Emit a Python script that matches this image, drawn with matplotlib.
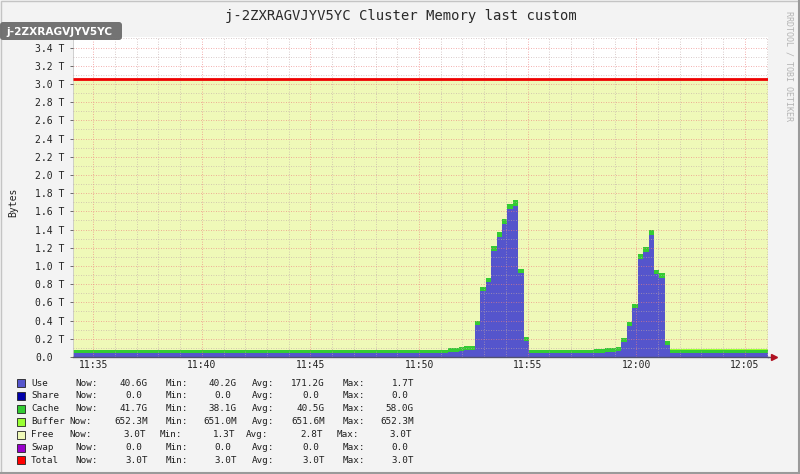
import numpy as np
import matplotlib
matplotlib.use("Agg")
import matplotlib.pyplot as plt
from matplotlib.patches import Rectangle, FancyBboxPatch

W, H = 800, 474
TB = 1e12

# ---- data: 15 s rrd steps, time in minutes relative to 11:35 ----
T0 = -0.9333            # 11:34:04
STEP = 0.25
N_STEPS = 128

# step index where a new value starts, values in T
seg_start = [0, 69, 71, 72, 74, 75, 76, 77, 78, 79, 80, 81, 82, 83, 84,
             96, 98, 100, 101, 102, 103, 104, 105, 106, 107, 108, 109, 110]
use_seg = [0.0402, 0.059, 0.064, 0.077, 0.351, 0.723, 0.822, 1.170, 1.318,
           1.466, 1.624, 1.662, 0.920, 0.175, 0.0404,
           0.048, 0.058, 0.068, 0.168, 0.341, 0.534, 1.080, 1.158, 1.345,
           0.910, 0.870, 0.136, 0.0406]
cache_seg = [0.0400, 0.0405, 0.041, 0.041, 0.045, 0.047, 0.048, 0.050, 0.052,
             0.054, 0.056, 0.058, 0.050, 0.045, 0.0402,
             0.0405, 0.041, 0.041, 0.042, 0.044, 0.046, 0.050, 0.052, 0.055,
             0.050, 0.050, 0.044, 0.0417]
share_val = 0.0
buffer_val = 0.000652
total_val = 3.055

xtick_pos = [0, 5, 10, 15, 20, 25, 30]
xtick_lab = ["11:35", "11:40", "11:45", "11:50", "11:55", "12:00", "12:05"]
ytick_lab = ["0.0"] + ["%.1f T" % (v / 10) for v in range(2, 36, 2)]

leg_names = ["Use", "Share", "Cache", "Buffer", "Free", "Swap", "Total"]
leg_colors = ["#5555cc", "#0000aa", "#33cc33", "#99ff33", "#eff9b8", "#9900cc", "#ff0000"]
leg_now = ["40.6G", "0.0", "41.7G", "652.3M", "3.0T", "0.0", "3.0T"]
leg_min = ["40.2G", "0.0", "38.1G", "651.0M", "1.3T", "0.0", "3.0T"]
leg_avg = ["171.2G", "0.0", "40.5G", "651.6M", "2.8T", "0.0", "3.0T"]
leg_max = ["1.7T", "0.0", "58.0G", "652.3M", "3.0T", "0.0", "3.0T"]

# ---- expand step segments ----
lens = np.diff(seg_start + [N_STEPS])
use = np.repeat(use_seg, lens) * TB
cache = np.repeat(cache_seg, lens) * TB
share = np.full(N_STEPS, share_val) * TB
buff = np.full(N_STEPS, buffer_val) * TB
total = np.full(N_STEPS, total_val) * TB
edges = T0 + STEP * np.arange(N_STEPS + 1)

fig = plt.figure(figsize=(W / 100, H / 100), dpi=100, facecolor="#f3f3f3")
L, R, TOP, BOT = 73, 768, 37, 357
ax = fig.add_axes([L / W, 1 - BOT / H, (R - L) / W, (BOT - TOP) / H])
ax.set_facecolor("white")

b1 = use
b2 = b1 + share
b3 = b2 + cache
b4 = b3 + buff
ax.stairs(b1, edges, baseline=0, fill=True, color=leg_colors[0], zorder=1)
ax.stairs(b2, edges, baseline=b1, fill=True, color=leg_colors[1], zorder=1)
ax.stairs(b3, edges, baseline=b2, fill=True, color=leg_colors[2], zorder=1)
ax.stairs(b4, edges, baseline=b3, fill=True, color=leg_colors[3], zorder=1)
ax.stairs(total, edges, baseline=b4, fill=True, color=leg_colors[4], zorder=1)
ax.stairs(total, edges, baseline=None, fill=False, color="#ee0000", lw=2, zorder=3)

ax.set_xlim(edges[0], edges[-1])
ax.set_ylim(0, 3.516 * TB)

ax.set_xticks(xtick_pos)
ax.set_xticklabels(xtick_lab)
ax.set_xticks(np.arange(0, 32, 1), minor=True)
ax.set_yticks(np.arange(0, 3.41, 0.2) * TB)
ax.set_yticklabels(ytick_lab)
ax.set_yticks(np.arange(0.1, 3.51, 0.2) * TB, minor=True)

ax.set_axisbelow(False)
ax.grid(which="major", color="#ee8080", lw=0.6, ls=(0, (1, 2)), alpha=0.85)
ax.grid(which="minor", color="#c0a8a8", lw=0.6, ls=(0, (1, 2)), alpha=0.8)

mono = "DejaVu Sans Mono"
ax.tick_params(axis="x", which="both", length=0, pad=2.5, labelsize=7, labelcolor="#222222")
ax.tick_params(axis="y", which="major", length=2, width=0.6, pad=25.4, labelsize=7,
               labelcolor="#222222", color="#555555")
ax.tick_params(axis="y", which="minor", length=0)
for lab in ax.get_xticklabels() + ax.get_yticklabels():
    lab.set_family(mono)
for lab in ax.get_yticklabels():
    lab.set_ha("left")

for s in ["top", "right"]:
    ax.spines[s].set_visible(False)
ax.spines["left"].set_color("#c8c8c8")
ax.spines["left"].set_linewidth(0.6)
ax.spines["bottom"].set_color("#505070")
ax.spines["bottom"].set_linewidth(1.0)
ax.plot([1.0, 1.006], [0, 0], color="#505070", lw=1, transform=ax.transAxes, clip_on=False)
ax.plot([1.008], [0], marker=">", ms=5, color="#b01020", mec="#b01020",
        transform=ax.transAxes, clip_on=False)

# ---- overlay in pixel coordinates ----
ov = fig.add_axes([0, 0, 1, 1])
ov.set_xlim(0, W)
ov.set_ylim(H, 0)
ov.axis("off")

# frame
ov.add_patch(Rectangle((0.5, 0.5), W - 2, H - 2, fill=False, ec="#c4c4c4", lw=1))
ov.plot([W - 1, W - 1], [0, H], color="#9a9a9a", lw=1.5)
ov.plot([0, W], [H - 1, H - 1], color="#9a9a9a", lw=1.5)

ov.text(401, 16, "j-2ZXRAGVJYV5YC Cluster Memory last custom", family=mono,
        fontsize=10, ha="center", va="center", color="#2a2a2a")
ov.text(13, 202, "Bytes", family=mono, fontsize=7, rotation=90,
        ha="center", va="center", color="#222222")
ov.text(789, 66, "RRDTOOL / TOBI OETIKER", family=mono, fontsize=6, rotation=270,
        ha="center", va="center", color="#b4b4b4")

ov.add_patch(FancyBboxPatch((0, 22), 122, 18, boxstyle="round,pad=0,rounding_size=3",
                            fc="#6c6c6c", ec="none", alpha=0.95, zorder=5))
ov.text(6, 31.5, "j-2ZXRAGVJYV5YC", color="white", fontsize=7.6, weight="bold",
        family="DejaVu Sans", ha="left", va="center", zorder=6)

# legend
cw = 5.43
now_x = [75, 75, 75, 69, 69, 75, 75]
shift = [0, 0, 0, 0, -6, 0, 0]
for i, name in enumerate(leg_names):
    y = 383 + 12.9 * i
    ov.add_patch(Rectangle((17, y - 4), 8, 8, fc=leg_colors[i], ec="#222222", lw=0.6))
    kw = dict(family=mono, fontsize=6.7, va="center", color="#1e1e1e")
    ov.text(31, y, name, ha="left", **kw)
    ov.text(now_x[i], y, "Now:", ha="left", **kw)
    for lab, lx in [("Min:", 166), ("Avg:", 252), ("Max:", 343)]:
        ov.text(lx + shift[i], y, lab, ha="left", **kw)
    for vals, rx in [(leg_now, 148), (leg_min, 237), (leg_avg, 325), (leg_max, 414)]:
        v = vals[i]
        off = -cw if v[-1].isdigit() else 0
        ov.text(rx + off + (shift[i] * 0.3 if i == 4 else 0), y, v, ha="right", **kw)

fig.savefig("out.png", dpi=100, facecolor=fig.get_facecolor())
